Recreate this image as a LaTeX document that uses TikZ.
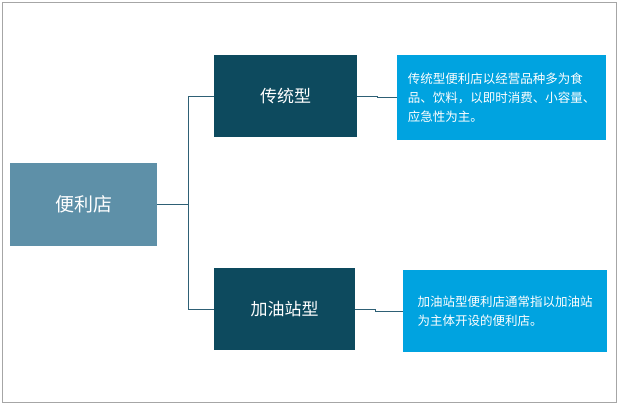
\documentclass[tikz,border=0pt]{standalone}
\usepackage{fontspec}
\setmainfont{Noto Sans CJK SC}
\definecolor{rootc}{HTML}{5E90A8}
\definecolor{darkc}{HTML}{0D4A5E}
\definecolor{bluec}{HTML}{00A3E0}
\definecolor{linec}{HTML}{2E6075}
\begin{document}
\begin{tikzpicture}[x=1pt,y=-1pt,
  box/.style={draw=none,text=white,inner sep=0pt,align=center},
  desc/.style={box,fill=bluec,font=\fontsize{12.5}{19}\selectfont,align=left},
  conn/.style={draw=linec,line width=0.8pt}]
\useasboundingbox (0,0) rectangle (620,407);
\draw[gray!70] (2,2) rectangle (616,402);
\node[box,fill=rootc,minimum width=147pt,minimum height=83pt,font=\fontsize{19}{22}\selectfont] (root) at (83.5,204.5) {便利店};
\node[box,fill=darkc,minimum width=143pt,minimum height=82pt,font=\fontsize{17}{20}\selectfont] (t1) at (285.5,96) {传统型};
\node[box,fill=darkc,minimum width=141pt,minimum height=82pt,font=\fontsize{17}{20}\selectfont] (t2) at (284.5,309) {加油站型};
\node[desc,minimum width=209pt,minimum height=85pt] (d1) at (501.5,97.5) {传统型便利店以经营品种多为食\\品、饮料，以即时消费、小容量、\\应急性为主。};
\node[desc,minimum width=204pt,minimum height=82pt] (d2) at (505,311) {加油站型便利店通常指以加油站\\为主体开设的便利店。};
\coordinate (j) at (188,204.5);
\draw[conn] (root.east) -- (j);
\draw[conn] (j) |- (t1.west);
\draw[conn] (j) |- (t2.west);
\draw[conn] (t1.east) -- ++(20,0) |- (d1.west);
\draw[conn] (t2.east) -- ++(20,0) |- (d2.west);
\end{tikzpicture}
\end{document}
